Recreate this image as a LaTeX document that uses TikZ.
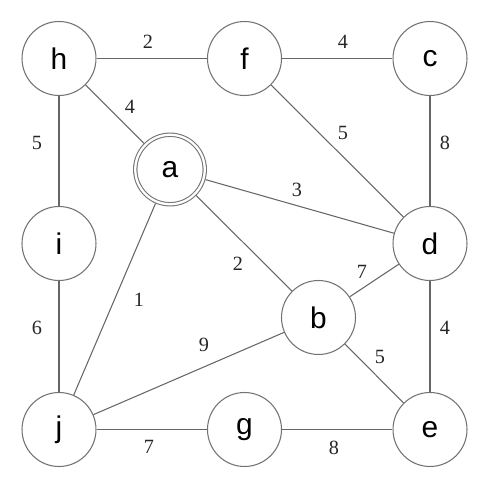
\documentclass[tikz,border=0pt]{standalone}
\usepackage{fontspec}
\setmainfont{Liberation Serif}
\newfontfamily\vtxfont{Liberation Sans}

\begin{document}
\begin{tikzpicture}[x=0.02cm, y=-0.02cm,
    vtx/.style={circle, draw=black!55, line width=0.6pt, minimum size=1.48cm,
        inner sep=0pt, font=\vtxfont\fontsize{17}{17}\selectfont},
    src/.style={vtx, double=white, double distance=1.3pt, minimum size=1.39cm, outer sep=1.25pt},
    wt/.style={inner sep=0pt, text=black!85, font=\fontsize{11.5}{12}\selectfont},
    edge/.style={draw=black!60, line width=0.6pt}]
    \useasboundingbox (0,0) rectangle (479,489);
    % vertices
    \node[vtx] (h) at (59,58.5) {h};
    \node[vtx] (f) at (244.5,58.5) {f};
    \node[vtx] (c) at (430,58.5) {c};
    \node[src] (a) at (170,169.5) {a};
    \node[vtx] (i) at (59,243.5) {i};
    \node[vtx] (d) at (430,243.5) {d};
    \node[vtx] (b) at (318.5,317.5) {b};
    \node[vtx] (j) at (59,429.5) {j};
    \node[vtx] (g) at (244.5,429.5) {g};
    \node[vtx] (e) at (430,429.5) {e};
    % edges
    \draw[edge] (h) -- (f);
    \draw[edge] (f) -- (c);
    \draw[edge] (h) -- (a);
    \draw[edge] (h) -- (i);
    \draw[edge] (f) -- (d);
    \draw[edge] (c) -- (d);
    \draw[edge] (a) -- (d);
    \draw[edge] (a) -- (b);
    \draw[edge] (b) -- (d);
    \draw[edge] (i) -- (j);
    \draw[edge] (a) -- (j);
    \draw[edge] (j) -- (b);
    \draw[edge] (b) -- (e);
    \draw[edge] (d) -- (e);
    \draw[edge] (j) -- (g);
    \draw[edge] (g) -- (e);
    % weights
    \node[wt] (w-hf) at (148,42) {2};
    \node[wt] (w-fc) at (343,42) {4};
    \node[wt] (w-ha) at (130,107) {4};
    \node[wt] (w-hi) at (37,143) {5};
    \node[wt] (w-fd) at (343,133) {5};
    \node[wt] (w-cd) at (445,143) {8};
    \node[wt] (w-ad) at (297,190) {3};
    \node[wt] (w-ab) at (238,264) {2};
    \node[wt] (w-bd) at (362,272) {7};
    \node[wt] (w-ij) at (37,328) {6};
    \node[wt] (w-aj) at (139,300) {1};
    \node[wt] (w-jb) at (204,345) {9};
    \node[wt] (w-be) at (380,357) {5};
    \node[wt] (w-de) at (445,328) {4};
    \node[wt] (w-jg) at (149,447) {7};
    \node[wt] (w-ge) at (334,448) {8};
\end{tikzpicture}
\end{document}
